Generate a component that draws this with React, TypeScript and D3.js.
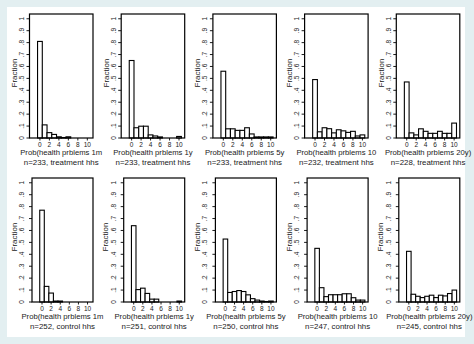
import React from "react";
import * as d3 from "d3";

const bins = [0, 1, 2, 3, 4, 5, 6, 7, 8, 9, 10];
const xTicks = [0, 2, 4, 6, 8, 10];
const yTicks = [0, 0.1, 0.2, 0.3, 0.4, 0.5, 0.6, 0.7, 0.8, 0.9, 1];
const yTickLabels = ["0", ".1", ".2", ".3", ".4", ".5", ".6", ".7", ".8", ".9", "1"];
const horizonLabels = [
  "Prob(health prblems 1m",
  "Prob(health prblems 1y",
  "Prob(health prblems 5y",
  "Prob(health prblems 10",
  "Prob(health prblems 20y)",
];
const treatmentN = [233, 233, 233, 232, 228];
const controlN = [252, 251, 250, 247, 245];

const treat1m = [0.81, 0.11, 0.045, 0.03, 0.01, 0.004, 0.01, 0, 0, 0, 0];
const treat1y = [0.65, 0.086, 0.099, 0.099, 0.026, 0.017, 0.009, 0, 0, 0, 0.013];
const treat5y = [0.56, 0.077, 0.077, 0.064, 0.064, 0.086, 0.034, 0.009, 0.009, 0.009, 0.009];
const treat10y = [0.49, 0.052, 0.086, 0.078, 0.043, 0.069, 0.06, 0.047, 0.056, 0.017, 0.026];
const treat20y = [0.47, 0.043, 0.026, 0.077, 0.056, 0.039, 0.039, 0.056, 0.039, 0.039, 0.125];

const ctrl1m = [0.77, 0.131, 0.075, 0.008, 0.008, 0, 0, 0, 0, 0, 0];
const ctrl1y = [0.64, 0.104, 0.116, 0.072, 0.024, 0.024, 0, 0, 0, 0, 0.008];
const ctrl5y = [0.528, 0.08, 0.088, 0.096, 0.088, 0.06, 0.028, 0.016, 0.008, 0.004, 0.008];
const ctrl10y = [0.45, 0.12, 0.045, 0.061, 0.061, 0.061, 0.069, 0.069, 0.036, 0.016, 0.016];
const ctrl20y = [0.425, 0.065, 0.048, 0.037, 0.048, 0.057, 0.037, 0.057, 0.051, 0.071, 0.1];

const treatRow = [treat1m, treat1y, treat5y, treat10y, treat20y];
const ctrlRow = [ctrl1m, ctrl1y, ctrl5y, ctrl10y, ctrl20y];

const FONT = "'Liberation Sans', Arial, Helvetica, sans-serif";
const INK = "#1a1a1a";

type PanelProps = {
  left: number;
  top: number;
  width: number;
  height: number;
  values: number[];
  title: string;
  note: string;
  tickLabelGap: number;
  fractionGap: number;
};

function Panel({ left, top, width, height, values, title, note, tickLabelGap, fractionGap }: PanelProps) {
  const x = d3.scaleLinear().domain([-2.2, 11.2]).range([left, left + width]);
  const y = d3.scaleLinear().domain([0, 1.04]).range([top + height, top]);
  const bottom = top + height;
  const cx = left + width / 2;
  return (
    <g>
      {bins.map((b, i) => (
        <rect
          key={b}
          x={x(b - 0.5)}
          y={y(values[i])}
          width={x(b + 0.5) - x(b - 0.5)}
          height={bottom - y(values[i])}
          fill="#ffffff"
          stroke="#000"
          strokeWidth={1.1}
        />
      ))}
      <rect x={left} y={top} width={width} height={height} fill="none" stroke="#000" strokeWidth={1.2} />
      {yTicks.map((t, i) => (
        <g key={t}>
          <line x1={left - 3} x2={left} y1={y(t)} y2={y(t)} stroke="#000" strokeWidth={0.9} />
          <text
            transform={`translate(${left - tickLabelGap},${y(t)}) rotate(-90)`}
            textAnchor="middle"
            dominantBaseline="central"
            fontFamily={FONT}
            fontSize={6.5}
            fill={INK}
          >
            {yTickLabels[i]}
          </text>
        </g>
      ))}
      <text
        transform={`translate(${left - fractionGap},${top + height / 2 - 3}) rotate(-90)`}
        textAnchor="middle"
        dominantBaseline="central"
        fontFamily={FONT}
        fontSize={8}
        fill={INK}
      >
        Fraction
      </text>
      {xTicks.map((t) => (
        <g key={t}>
          <line x1={x(t)} x2={x(t)} y1={bottom} y2={bottom + 2.5} stroke="#000" strokeWidth={0.9} />
          <text x={x(t)} y={bottom + 8.8} textAnchor="middle" fontFamily={FONT} fontSize={6.5} fill={INK}>
            {t}
          </text>
        </g>
      ))}
      <text x={cx} y={bottom + 16.5} textAnchor="middle" fontFamily={FONT} fontSize={7.7} fill={INK}>
        {title}
      </text>
      <text x={cx} y={bottom + 27} textAnchor="middle" fontFamily={FONT} fontSize={7.9} fill={INK}>
        {note}
      </text>
    </g>
  );
}

export default function App() {
  const cellW = 91.7;
  const cellX0 = 7;
  return (
    <svg
      width={474}
      height={344}
      style={{ position: "absolute", left: 0, top: 0 }}
      xmlns="http://www.w3.org/2000/svg"
    >
      <rect x={0} y={0} width={474} height={344} fill="#e3eff1" />
      <rect x={7} y={7} width={458} height={330} fill="#ffffff" />
      {treatRow.map((vals, i) => (
        <Panel
          key={"t" + i}
          left={cellX0 + cellW * i + 22.5}
          top={14}
          width={63.5}
          height={124}
          values={vals}
          title={horizonLabels[i]}
          note={`n=${treatmentN[i]}, treatment hhs`}
          tickLabelGap={8}
          fractionGap={15}
        />
      ))}
      {ctrlRow.map((vals, i) => (
        <Panel
          key={"c" + i}
          left={cellX0 + cellW * i + 25}
          top={178}
          width={61}
          height={124}
          values={vals}
          title={horizonLabels[i]}
          note={`n=${controlN[i]}, control hhs`}
          tickLabelGap={10.5}
          fractionGap={18}
        />
      ))}
    </svg>
  );
}
